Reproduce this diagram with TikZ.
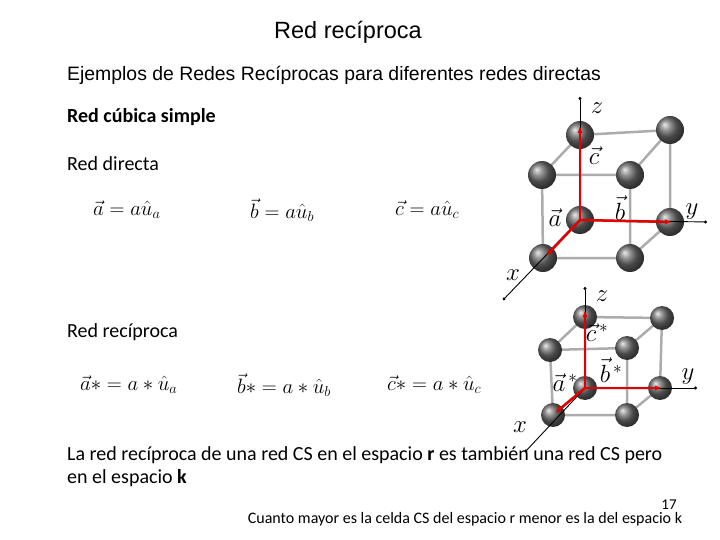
\documentclass[tikz,border=0pt]{standalone}
\usepackage{fontspec}
\setmainfont{Carlito}
\newfontfamily\arial{Liberation Sans}
\usetikzlibrary{arrows.meta}
\begin{document}
\begin{tikzpicture}[x=1pt,y=-1pt,
  bar/.style={draw=gray!65,line width=2.5pt},
  atom/.style={ball color=gray!55!black!80},
  ax/.style={-{Circle[length=3pt]},line width=0.9pt},
  red/.style={draw=red!90!black,line width=2.5pt,-{Latex[length=7pt]}},
  txt/.style={anchor=west,inner sep=0pt,font=\fontsize{20}{23}\selectfont},
  fm/.style={anchor=west,inner sep=0pt,font=\fontsize{20}{23}\selectfont},
  lab/.style={inner sep=0pt,font=\fontsize{24}{26}\selectfont}]
\useasboundingbox (0,0) rectangle (720,540);
\node[inner sep=0pt,font=\arial\fontsize{23.5}{26}\selectfont] (title) at (348,32) {Red recíproca};
\node[txt,font=\arial\fontsize{19.4}{22}\selectfont] (sub) at (67,75) {Ejemplos de Redes Recíprocas para diferentes redes directas};
\node[txt,font=\bfseries\fontsize{20}{23}\selectfont] (cs) at (67,117) {Red cúbica simple};
\node[txt] (rd) at (67,164) {Red directa};
\node[fm] (f1) at (93,210) {$\vec{a}=a\hat{u}_a$};
\node[fm] (f2) at (250,210) {$\vec{b}=a\hat{u}_b$};
\node[fm] (f3) at (395,210) {$\vec{c}=a\hat{u}_c$};
\node[txt] (rr) at (67,332) {Red recíproca};
\node[fm] (g1) at (80,385) {$\vec{a}{*}=a*\hat{u}_a$};
\node[fm] (g2) at (237,385) {$\vec{b}{*}=a*\hat{u}_b$};
\node[fm] (g3) at (387,385) {$\vec{c}{*}=a*\hat{u}_c$};
\node[txt] (t1) at (67,455) {La red recíproca de una red CS en el espacio \textbf{r} es también una red CS pero};
\node[txt] (t2) at (67,478) {en el espacio \textbf{k}};
\node[inner sep=0pt,font=\fontsize{15}{17}\selectfont] (pg) at (669,505) {17};
\node[inner sep=0pt,font=\fontsize{16}{18}\selectfont] (ft) at (465,519) {Cuanto mayor es la celda CS del espacio r menor es la del espacio k};
% cube 1
\begin{scope}
\coordinate (O) at (580,220); \coordinate (Y) at (670,222); \coordinate (Z) at (580,135);
\coordinate (X) at (543,258); \coordinate (A) at (670,130); \coordinate (B) at (542,175);
\coordinate (C) at (630,175); \coordinate (D) at (630,258);
\draw[bar] (O)--(Y) (O)--(Z) (O)--(X) (Z)--(A) (A)--(Y) (Z)--(B) (B)--(C) (C)--(A) (B)--(X) (X)--(D) (D)--(Y) (C)--(D);
\foreach \p in {O,Y,Z,X,A,B,C,D} \shade[atom] (\p) circle (14);
\coordinate (ze) at (580,97); \coordinate (ye) at (707,222); \coordinate (xe) at (503,300);
\draw[ax] (O)--(ze); \draw[ax] (O)--(ye); \draw[ax] (O)--(xe);
\draw[red] (O)--(580,126); \draw[red] (O)--(672,222); \draw[red] (O)--(546,256);
\node[lab] (lz) at (597,108) {$z$}; \node[lab] (ly) at (692,212) {$y$}; \node[lab] (lx) at (513,275) {$x$};
\node[lab] (lc) at (594,156) {$\vec{c}$}; \node[lab] (lb) at (620,208) {$\vec{b}$}; \node[lab] (la) at (555,218) {$\vec{a}$};
\end{scope}
% cube 2
\begin{scope}
\coordinate (O) at (585,388); \coordinate (Y) at (660,388); \coordinate (Z) at (585,317);
\coordinate (X) at (553,415); \coordinate (A) at (662,318); \coordinate (B) at (550,350);
\coordinate (C) at (627,348); \coordinate (D) at (627,415);
\draw[bar] (O)--(Y) (O)--(Z) (O)--(X) (Z)--(A) (A)--(Y) (Z)--(B) (B)--(C) (C)--(A) (B)--(X) (X)--(D) (D)--(Y) (C)--(D);
\foreach \p in {O,Y,Z,X,A,B,C,D} \shade[atom] (\p) circle (12);
\coordinate (ze) at (585,287); \coordinate (ye) at (697,388); \coordinate (xe) at (525,452);
\draw[ax] (O)--(ze); \draw[ax] (O)--(ye); \draw[ax] (O)--(xe);
\draw[red] (O)--(585,310); \draw[red] (O)--(662,388); \draw[red] (O)--(555,413);
\node[lab] (lz) at (602,296) {$z$}; \node[lab] (ly) at (688,377) {$y$}; \node[lab] (lx) at (520,427) {$x$};
\node[lab] (lc) at (597,333) {$\vec{c}^{\,*}$}; \node[lab] (lb) at (611,370) {$\vec{b}^{\,*}$}; \node[lab] (la) at (565,383) {$\vec{a}^{\,*}$};
\end{scope}
\end{tikzpicture}
\end{document}
